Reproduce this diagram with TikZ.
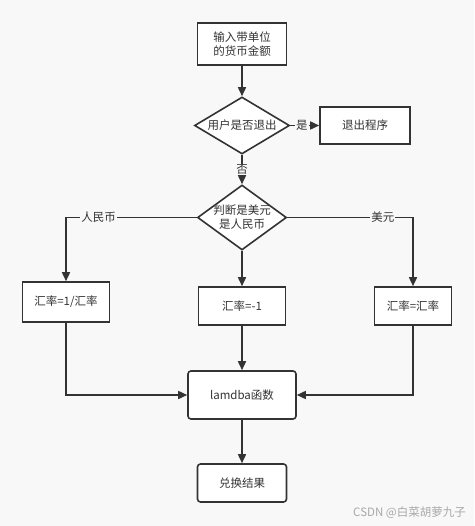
\documentclass[tikz,border=0pt]{standalone}
\usepackage{fontspec}
\setmainfont{Noto Sans CJK SC}
\usetikzlibrary{shapes.geometric,arrows.meta}
\definecolor{bg}{HTML}{F8F8F8}
\definecolor{ln}{HTML}{333333}
\definecolor{tx}{HTML}{333333}
\definecolor{wm}{HTML}{A8A8A8}
\begin{document}
\begin{tikzpicture}[x=1pt,y=-1pt,
  every node/.style={font=\fontsize{11.5}{14}\selectfont, text=tx, inner sep=0pt},
  procbox/.style={draw=ln, line width=1.6pt, fill=white, align=center},
  roundbox/.style={procbox, rounded corners=3pt},
  decide/.style={draw=ln, line width=1.6pt, fill=white, diamond, align=center},
  conn/.style={draw=ln, line width=1.6pt, -{Triangle[length=9pt,width=8pt]}},
  lbl/.style={fill=bg, inner sep=1pt}
]
\fill[bg] (0,0) rectangle (474,526);
\useasboundingbox (0,0) rectangle (474,526);

\node[procbox, minimum width=89pt, minimum height=42pt] (input) at (242,44) {输入带单位\\的货币金额};
\node[decide, minimum width=95pt, minimum height=57pt] (q1) at (242,125.5) {};
\node (q1t) at (q1.center) {用户是否退出};
\node[procbox, minimum width=90pt, minimum height=37pt] (exit) at (365,125.5) {退出程序};
\node[decide, minimum width=89pt, minimum height=65pt] (q2) at (242,217.5) {};
\node[align=center] (q2t) at (q2.center) {判断是美元\\是人民币};
\node[procbox, minimum width=87pt, minimum height=40pt] (left) at (66,302) {汇率=1/汇率};
\node[procbox, minimum width=87pt, minimum height=38pt] (mid) at (242,306) {汇率=-1};
\node[procbox, minimum width=77pt, minimum height=38pt] (right) at (413,306) {汇率=汇率};
\node[roundbox, minimum width=108pt, minimum height=48pt] (lam) at (242,395) {lamdba函数};
\node[roundbox, minimum width=89pt, minimum height=38pt] (res) at (242,483) {兑换结果};

\coordinate (lc) at (66,217.5);
\coordinate (rc) at (413,217.5);
\coordinate (lb) at (66,395);
\coordinate (rb) at (413,395);

\draw[conn] (input) -- (q1);
\draw[conn] (q1) -- node[lbl, pos=0.4]{是} (exit);
\draw[conn] (q1) -- node[lbl, pos=0.5]{否} (q2);
\draw[conn] (q2.west) -- node[lbl, pos=0.75]{人民币} (lc) -- (left.north);
\draw[conn] (q2.east) -- node[lbl, pos=0.76]{美元} (rc) -- (right.north);
\draw[conn] (q2.south) -- (mid.north);
\draw[conn] (left.south) -- (lb) -- (lam.west);
\draw[conn] (right.south) -- (rb) -- (lam.east);
\draw[conn] (mid.south) -- (lam.north);
\draw[conn] (lam.south) -- (res.north);

\node[text=wm, font=\fontsize{11.5}{14}\selectfont, anchor=east] (wmark) at (466,513) {CSDN @白菜胡萝九子};
\end{tikzpicture}
\end{document}
